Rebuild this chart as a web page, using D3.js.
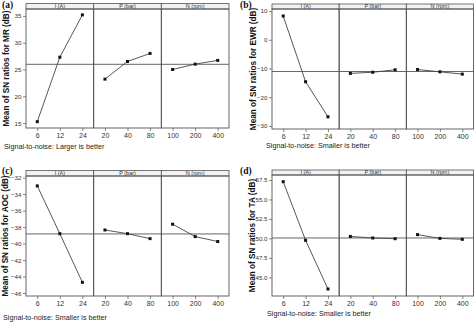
<!DOCTYPE html>
<html>
<head>
<meta charset="utf-8">
<script src="https://cdn.jsdelivr.net/npm/d3@7"></script>
<style>
  body { margin: 0; background: #fff; }
  svg { display: block; font-family: "Liberation Sans", Arial, sans-serif; }
</style>
</head>
<body>
<div id="chart"></div>
<script>
// factors and their levels (same for all four plots)
let factors = ["I (A)", "P (bar)", "N (rpm)"];
let levels = [["6", "12", "24"], ["20", "40", "80"], ["100", "200", "400"]];

// mean S/N ratio per level
let mrValues  = [[15.25, 27.3, 35.2], [23.2, 26.5, 28.0], [25.0, 26.0, 26.7]];
let ewrValues = [[8.26, -14.6, -26.8], [-11.7, -11.3, -10.45], [-10.35, -11.15, -11.95]];
let aocValues = [[-33.0, -38.8, -44.7], [-38.35, -38.8, -39.4], [-37.65, -39.15, -39.75]];
let taValues  = [[57.28, 49.75, 43.5], [50.25, 50.05, 49.96], [50.48, 50.0, 49.88]];

// overall mean lines
let means = [25.97, -11.05, -38.83, 50.05];

// y ticks
let mrTicks  = [15, 20, 25, 30, 35];
let ewrTicks = [-30, -20, -10, 0, 10];
let aocTicks = [-46, -44, -42, -40, -38, -36, -34, -32];
let taTicks  = [45.0, 47.5, 50.0, 52.5, 55.0, 57.5];

let labels = ["(a)", "(b)", "(c)", "(d)"];
let yTitles = ["Mean of SN ratios for MR (dB)", "Mean of SN ratios for EWR (dB)",
               "Mean of SN ratios for AOC (dB)", "Mean of SN ratios for TA (dB)"];
let captions = ["Signal-to-noise: Larger is better", "Signal-to-noise: Smaller is better",
                "Signal-to-noise: Smaller is better", "Signal-to-noise: Smaller is better"];

// layout of each plot (pixels)
let panels = [
  {left: 26, right: 229, stripTop: 3.5, top: 9, bottom: 128, dom: [14.07, 36.3], values: mrValues, ticks: mrTicks, fmt: d3.format("d"),
   titleX: 6.5, labX: 2, labY: 8, capX: 4, capY: 149},
  {left: 272, right: 473.5, stripTop: 4, top: 9, bottom: 129, dom: [-31.04, 10.7], values: ewrValues, ticks: ewrTicks, fmt: d3.format("d"),
   titleX: 254, labX: 240, labY: 8, capX: 266, capY: 148},
  {left: 26, right: 229, stripTop: 170.5, top: 176, bottom: 296, dom: [-46.36, -31.8], values: aocValues, ticks: aocTicks, fmt: d3.format("d"),
   titleX: 6, labX: 2, labY: 174, capX: 3, capY: 319.5},
  {left: 272, right: 473.5, stripTop: 170, top: 175, bottom: 296, dom: [42.6, 58.14], values: taValues, ticks: taTicks, fmt: d3.format(".1f"),
   titleX: 253, labX: 240, labY: 174, capX: 267, capY: 316}
];

let svg = d3.select("#chart").append("svg")
  .attr("width", 474)
  .attr("height", 322);

let frameColor = "#555";

panels.forEach(function(p, k){
  let g = svg.append("g");
  let w = (p.right - p.left) / factors.length;

  let y = d3.scaleLinear().domain(p.dom).range([p.bottom, p.top]);

  // y axis
  let yAxis = g.append("g")
    .attr("transform", "translate(" + p.left + ",0)")
    .call(d3.axisLeft(y).tickValues(p.ticks).tickFormat(p.fmt).tickSize(3).tickPadding(1.5));
  yAxis.select(".domain").remove();
  yAxis.selectAll("line").attr("stroke", frameColor).attr("stroke-width", 0.7);
  yAxis.selectAll("text").attr("font-size", 6.2).attr("fill", "#333");

  // y title
  g.append("text")
    .attr("transform", "translate(" + p.titleX + "," + ((p.top + p.bottom) / 2) + ")rotate(-90)")
    .attr("text-anchor", "middle")
    .attr("dominant-baseline", "middle")
    .attr("font-size", 8.2)
    .attr("font-weight", "bold")
    .attr("fill", "#111")
    .text(yTitles[k]);

  // mean line
  g.append("line")
    .attr("x1", p.left).attr("x2", p.right)
    .attr("y1", y(means[k])).attr("y2", y(means[k]))
    .attr("stroke", frameColor).attr("stroke-width", 0.9);

  factors.forEach(function(f, i){
    let x0 = p.left + i * w;
    let x = d3.scalePoint().domain(levels[i]).range([x0, x0 + w]).padding(0.5);

    // strip
    g.append("rect")
      .attr("x", x0).attr("y", p.stripTop)
      .attr("width", w).attr("height", p.top - p.stripTop)
      .attr("fill", "#f2f2f2").attr("stroke", frameColor).attr("stroke-width", 0.8);
    g.append("text")
      .attr("x", x0 + w / 2).attr("y", (p.stripTop + p.top) / 2 + 0.3)
      .attr("text-anchor", "middle")
      .attr("dominant-baseline", "middle")
      .attr("font-size", 5.5)
      .attr("fill", "#333")
      .text(f);

    // x axis
    let xAxis = g.append("g")
      .attr("transform", "translate(0," + p.bottom + ")")
      .call(d3.axisBottom(x).tickSize(3).tickPadding(2));
    xAxis.select(".domain").remove();
    xAxis.selectAll("line").attr("stroke", frameColor).attr("stroke-width", 0.7);
    xAxis.selectAll("text").attr("font-size", 7).attr("fill", "#333");

    // line + points
    let pts = levels[i].map(function(l, j){ return [x(l), y(p.values[i][j])]; });
    g.append("path")
      .attr("d", d3.line()(pts))
      .attr("fill", "none")
      .attr("stroke", "#444")
      .attr("stroke-width", 0.9);
    g.selectAll(null)
      .data(pts)
      .enter()
      .append("rect")
      .attr("x", function(d){ return d[0] - 1.5; })
      .attr("y", function(d){ return d[1] - 1.5; })
      .attr("width", 3).attr("height", 3)
      .attr("fill", "#111");

    // panel frame
    g.append("rect")
      .attr("x", x0).attr("y", p.top)
      .attr("width", w).attr("height", p.bottom - p.top)
      .attr("fill", "none").attr("stroke", frameColor).attr("stroke-width", 0.9);
  });

  // panel label
  g.append("text")
    .attr("x", p.labX).attr("y", p.labY)
    .attr("font-family", "'Liberation Serif', 'Times New Roman', serif")
    .attr("font-weight", "bold")
    .attr("font-size", 9.5)
    .attr("fill", "#111")
    .text(labels[k]);

  // caption
  g.append("text")
    .attr("x", p.capX).attr("y", p.capY)
    .attr("font-size", 7.2)
    .attr("fill", "#222")
    .text(captions[k]);
});
</script>
</body>
</html>
